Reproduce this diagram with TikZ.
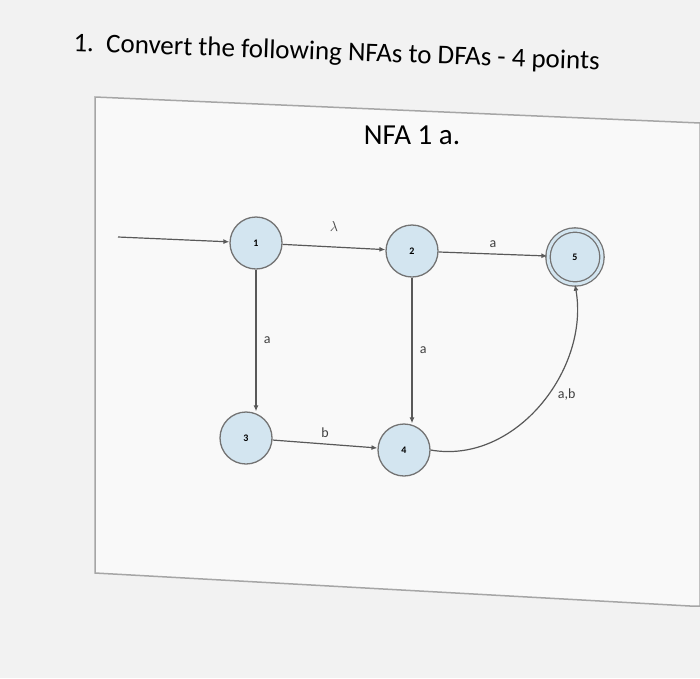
\documentclass[tikz,border=0pt]{standalone}
\usepackage{fontspec}
\setmainfont{Carlito}
\usetikzlibrary{arrows.meta}
\definecolor{nfill}{HTML}{D3E5F0}
\begin{document}
\begin{tikzpicture}[x=1pt,y=-1pt,
  st/.style={circle,draw=black!55,fill=nfill,line width=1.3pt,minimum size=52pt,inner sep=0pt,font=\bfseries\fontsize{10}{11}\selectfont},
  acc/.style={st,double=nfill,double distance=3pt,minimum size=54pt},
  ed/.style={-{Latex[length=6pt,width=5pt]},draw=black!65,line width=1.2pt},
  lb/.style={font=\fontsize{14}{15}\selectfont,text=black!75}]
\fill[gray!10] (0,0) rectangle (700,678);
\useasboundingbox (0,0) rectangle (700,678);
\node[font=\fontsize{27}{29}\selectfont,anchor=west,rotate=-2] (title) at (70,44) {1.\ \ Convert the following NFAs to DFAs - 4 points};
\draw[black!35,line width=1.5pt,fill=gray!5] (95,97) -- (700,123) -- (700,606) -- (690,606) -- (95,573) -- cycle;
\node[font=\fontsize{29}{31}\selectfont] (ttl) at (412,135) {NFA 1 a.};
\node[st] (n1) at (256,243) {1};
\node[st] (n2) at (412,251) {2};
\node[acc] (n5) at (575,257) {5};
\node[st] (n3) at (246,438) {3};
\node[st] (n4) at (404,450) {4};
\coordinate (in) at (118,237);
\draw[ed] (in) -- (n1);
\draw[ed] (n1) -- node[lb,above=12pt]{$\lambda$} (n2);
\draw[ed] (n2) -- node[lb,above=2pt]{a} (n5);
\draw[ed] (n1.south) -- node[lb,right=4pt]{a} (n3.north-|n1.south);
\draw[ed] (n2.south) -- node[lb,right=4pt]{a} (n4.north-|n2.south);
\draw[ed] (n3) -- node[lb,above=2pt]{b} (n4);
\draw[ed] (n4.east) to[out=-10,in=-80] node[lb,pos=0.55,right=6pt]{a,b} (n5.south);
\end{tikzpicture}
\end{document}
